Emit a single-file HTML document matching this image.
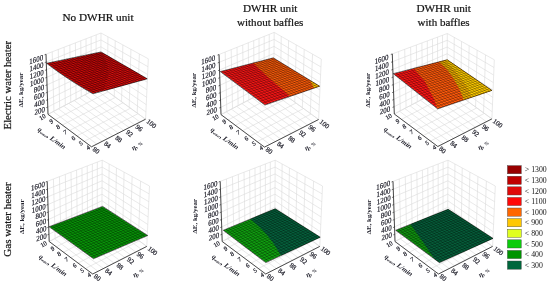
<!DOCTYPE html>
<html><head><meta charset="utf-8"><title>Figure</title>
<style>html,body{margin:0;padding:0;background:#fff}svg{display:block}</style>
</head><body>
<svg width="550" height="285" viewBox="0 0 550 285" font-family='"Liberation Serif", serif'>
<rect width="550" height="285" fill="#fff"/>
<path d="M48 114.3 L46 54.2M53.93 111.17 L52.21 51.8M59.69 108.13 L58.25 49.48M65.3 105.17 L64.12 47.22M70.76 102.29 L69.83 45.02M76.08 99.49 L75.38 42.88M81.26 96.76 L80.78 40.79M86.3 94.09 L86.03 38.77M91.22 91.5 L91.15 36.8M96.02 88.97 L96.14 34.87M100.7 86.5 L101 33M48 114.3 L100.7 86.5M47.76 107.07 L100.74 80.03M47.52 99.76 L100.77 73.5M47.27 92.37 L100.81 66.91M47.02 84.9 L100.85 60.26M46.77 77.35 L100.88 53.54M46.52 69.72 L100.92 46.76M46.26 62 L100.96 39.91M46 54.2 L101 33M107.34 91.33 L107.95 36.79M114.28 96.39 L115.24 40.77M121.55 101.69 L122.89 44.94M129.18 107.24 L130.93 49.32M137.19 113.07 L139.39 53.94M145.6 119.2 L148.3 58.8M100.7 86.5 L145.6 119.2M100.74 80.07 L145.92 111.98M100.77 73.56 L146.25 104.67M100.81 66.99 L146.58 97.27M100.85 60.34 L146.92 89.77M100.88 53.62 L147.25 82.18M100.92 46.82 L147.6 74.49M100.96 39.95 L147.95 66.69M101 33 L148.3 58.8M48 114.3 L91.5 146.8M53.19 111.56 L96.83 144.08M58.4 108.81 L102.18 141.35M63.63 106.06 L107.54 138.62M68.87 103.29 L112.92 135.87M74.13 100.52 L118.32 133.12M79.41 97.73 L123.74 130.35M84.71 94.94 L129.18 127.58M90.02 92.13 L134.63 124.79M95.35 89.32 L140.11 122M100.7 86.5 L145.6 119.2M48 114.3 L100.7 86.5M55.18 119.66 L108.11 91.89M62.38 125.04 L115.54 97.31M69.62 130.45 L123.01 102.75M76.88 135.88 L130.51 108.21M84.18 141.33 L138.04 113.69M91.5 146.8 L145.6 119.2" fill="none" stroke="#dadada" stroke-width="0.6"/>
<path d="M46 54.2 L48 114.3 L91.5 146.8 L145.6 119.2" fill="none" stroke="#222" stroke-width="0.8" stroke-linejoin="round"/>
<path d="M47.76 107.07 L46.26 107.67M47.52 99.76 L46.02 100.36M47.27 92.37 L45.77 92.97M47.02 84.9 L45.52 85.5M46.77 77.35 L45.27 77.95M46.52 69.72 L45.02 70.32M46.26 62 L44.76 62.6M46 54.2 L44.5 54.8" fill="none" stroke="#222" stroke-width="0.6"/>
<clipPath id="c0_0"><path d="M46.7 63.3 L52.57 62.08 L58.34 60.88 L64.01 59.7 L69.57 58.54 L75.04 57.4 L80.41 56.28 L85.69 55.19 L90.88 54.11 L95.98 53.04 L101 52 L105.33 54.51 L109.72 57.06 L114.17 59.64 L118.68 62.26 L123.26 64.91 L127.91 67.61 L132.63 70.35 L137.41 73.12 L142.27 75.94 L147.2 78.8 L142.23 80.17 L137.16 81.56 L132 82.98 L126.74 84.42 L121.38 85.9 L115.92 87.4 L110.36 88.93 L104.69 90.49 L98.9 92.08 L93 93.7 L88.03 90.87 L83.14 87.99 L78.32 85.07 L73.59 82.11 L68.93 79.1 L64.34 76.04 L59.83 72.93 L55.38 69.77 L51.01 66.56Z"/></clipPath>
<g clip-path="url(#c0_0)">
<path d="M46.7 63.3 L52.57 62.08 L58.34 60.88 L64.01 59.7 L69.57 58.54 L75.04 57.4 L80.41 56.28 L85.69 55.19 L90.88 54.11 L95.98 53.04 L101 52 L105.33 54.51 L109.72 57.06 L114.17 59.64 L118.68 62.26 L123.26 64.91 L127.91 67.61 L132.63 70.35 L137.41 73.12 L142.27 75.94 L147.2 78.8 L142.23 80.17 L137.16 81.56 L132 82.98 L126.74 84.42 L121.38 85.9 L115.92 87.4 L110.36 88.93 L104.69 90.49 L98.9 92.08 L93 93.7 L88.03 90.87 L83.14 87.99 L78.32 85.07 L73.59 82.11 L68.93 79.1 L64.34 76.04 L59.83 72.93 L55.38 69.77 L51.01 66.56Z" fill="#d20a0a"/>
<path d="M76 1 L100 49 L104 57 L108 66 L108 76 L105 86 L103 93 L91 135 L291 135 L276 1Z" fill="#e20e0e"/>
</g>
<path d="M46.7 63.3 L51.01 66.56 L55.38 69.77 L59.83 72.93 L64.34 76.04 L68.93 79.1 L73.59 82.11 L78.32 85.07 L83.14 87.99 L88.03 90.87 L93 93.7M46.7 63.3 L52.57 62.08 L58.34 60.88 L64.01 59.7 L69.57 58.54 L75.04 57.4 L80.41 56.28 L85.69 55.19 L90.88 54.11 L95.98 53.04 L101 52M49.65 62.69 L53.96 65.89 L58.34 69.05 L62.79 72.16 L67.3 75.24 L71.89 78.27 L76.55 81.27 L81.29 84.23 L86.1 87.15 L90.99 90.03 L95.96 92.88M48.85 64.94 L54.72 63.65 L60.49 62.4 L66.16 61.17 L71.73 59.96 L77.2 58.78 L82.57 57.63 L87.85 56.5 L93.04 55.39 L98.14 54.31 L103.16 53.25M52.57 62.08 L56.89 65.22 L61.27 68.33 L65.72 71.41 L70.24 74.45 L74.83 77.46 L79.49 80.44 L84.22 83.39 L89.04 86.31 L93.93 89.21 L98.9 92.08M51.01 66.56 L56.89 65.22 L62.66 63.91 L68.33 62.64 L73.9 61.39 L79.37 60.17 L84.74 58.98 L90.02 57.82 L95.21 56.69 L100.31 55.59 L105.33 54.51M55.47 61.47 L59.79 64.56 L64.17 67.63 L68.62 70.66 L73.14 73.67 L77.73 76.66 L82.39 79.62 L87.13 82.57 L91.95 85.49 L96.84 88.39 L101.81 91.28M53.19 68.17 L59.07 66.78 L64.85 65.42 L70.52 64.1 L76.09 62.81 L81.56 61.56 L86.93 60.34 L92.21 59.15 L97.4 58 L102.5 56.87 L107.51 55.78M58.34 60.88 L62.66 63.91 L67.05 66.93 L71.5 69.93 L76.02 72.91 L80.61 75.87 L85.27 78.82 L90.01 81.76 L94.83 84.68 L99.72 87.59 L104.69 90.49M55.38 69.77 L61.27 68.33 L67.05 66.93 L72.72 65.57 L78.29 64.24 L83.76 62.95 L89.13 61.7 L94.41 60.49 L99.6 59.31 L104.7 58.17 L109.72 57.06M61.19 60.28 L65.51 63.27 L69.9 66.24 L74.35 69.21 L78.87 72.16 L83.46 75.1 L88.13 78.03 L92.86 80.96 L97.68 83.88 L102.57 86.79 L107.54 89.7M57.6 71.36 L63.49 69.87 L69.26 68.43 L74.94 67.03 L80.51 65.67 L85.98 64.35 L91.36 63.07 L96.64 61.83 L101.82 60.63 L106.92 59.47 L111.93 58.34M64.01 59.7 L68.33 62.64 L72.72 65.57 L77.17 68.49 L81.7 71.42 L86.29 74.34 L90.95 77.25 L95.69 80.17 L100.5 83.09 L105.39 86.01 L110.36 88.93M59.83 72.93 L65.72 71.41 L71.5 69.93 L77.17 68.49 L82.75 67.1 L88.22 65.76 L93.59 64.45 L98.87 63.19 L104.06 61.96 L109.16 60.78 L114.17 59.64M66.8 59.12 L71.13 62.01 L75.52 64.9 L79.97 67.79 L84.5 70.69 L89.09 73.59 L93.75 76.49 L98.49 79.4 L103.3 82.31 L108.19 85.23 L113.15 88.16M62.08 74.49 L67.97 72.93 L73.75 71.42 L79.43 69.96 L85 68.54 L90.47 67.16 L95.85 65.83 L101.12 64.55 L106.31 63.3 L111.41 62.1 L116.42 60.94M69.57 58.54 L73.9 61.39 L78.29 64.24 L82.75 67.1 L87.27 69.97 L91.86 72.85 L96.53 75.74 L101.26 78.63 L106.07 81.54 L110.96 84.46 L115.92 87.4M64.34 76.04 L70.24 74.45 L76.02 72.91 L81.7 71.42 L87.27 69.97 L92.74 68.57 L98.12 67.22 L103.39 65.91 L108.58 64.65 L113.67 63.43 L118.68 62.26M72.32 57.97 L76.65 60.78 L81.04 63.59 L85.49 66.42 L90.02 69.27 L94.61 72.12 L99.27 74.99 L104.01 77.88 L108.82 80.78 L113.7 83.7 L118.67 86.64M66.63 77.57 L72.52 75.96 L78.31 74.39 L83.98 72.88 L89.56 71.41 L95.03 69.99 L100.4 68.62 L105.68 67.29 L110.86 66.01 L115.96 64.77 L120.96 63.58M75.04 57.4 L79.37 60.17 L83.76 62.95 L88.22 65.76 L92.74 68.57 L97.33 71.41 L102 74.26 L106.73 77.14 L111.54 80.04 L116.42 82.96 L121.38 85.9M68.93 79.1 L74.83 77.46 L80.61 75.87 L86.29 74.34 L91.86 72.85 L97.33 71.41 L102.71 70.02 L107.98 68.67 L113.17 67.37 L118.26 66.12 L123.26 64.91M77.74 56.84 L82.07 59.57 L86.46 62.32 L90.92 65.1 L95.44 67.89 L100.03 70.71 L104.69 73.55 L109.43 76.41 L114.23 79.3 L119.12 82.21 L124.07 85.16M71.25 80.61 L77.15 78.95 L82.93 77.35 L88.61 75.8 L94.19 74.29 L99.66 72.83 L105.03 71.43 L110.3 70.06 L115.49 68.75 L120.58 67.48 L125.58 66.26M80.41 56.28 L84.74 58.98 L89.13 61.7 L93.59 64.45 L98.12 67.22 L102.71 70.02 L107.37 72.84 L112.1 75.69 L116.91 78.57 L121.78 81.48 L126.74 84.42M73.59 82.11 L79.49 80.44 L85.27 78.82 L90.95 77.25 L96.53 75.74 L102 74.26 L107.37 72.84 L112.64 71.46 L117.82 70.13 L122.91 68.85 L127.91 67.61M83.07 55.73 L87.39 58.4 L91.79 61.09 L96.24 63.81 L100.77 66.56 L105.36 69.34 L110.02 72.15 L114.75 74.99 L119.55 77.86 L124.43 80.76 L129.38 83.7M75.95 83.6 L81.85 81.92 L87.63 80.29 L93.31 78.71 L98.89 77.18 L104.36 75.7 L109.73 74.26 L115 72.87 L120.18 71.53 L125.26 70.23 L130.26 68.97M85.69 55.19 L90.02 57.82 L94.41 60.49 L98.87 63.19 L103.39 65.91 L107.98 68.67 L112.64 71.46 L117.37 74.29 L122.17 77.15 L127.05 80.05 L132 82.98M78.32 85.07 L84.22 83.39 L90.01 81.76 L95.69 80.17 L101.26 78.63 L106.73 77.14 L112.1 75.69 L117.37 74.29 L122.55 72.93 L127.63 71.62 L132.63 70.35M88.3 54.64 L92.63 57.25 L97.02 59.9 L101.48 62.57 L106 65.28 L110.59 68.02 L115.24 70.79 L119.97 73.61 L124.77 76.45 L129.64 79.34 L134.59 82.27M80.72 86.54 L86.62 84.86 L92.41 83.22 L98.09 81.63 L103.66 80.09 L109.13 78.59 L114.49 77.13 L119.76 75.72 L124.94 74.35 L130.02 73.02 L135.01 71.73M90.88 54.11 L95.21 56.69 L99.6 59.31 L104.06 61.96 L108.58 64.65 L113.17 67.37 L117.82 70.13 L122.55 72.93 L127.34 75.77 L132.21 78.64 L137.16 81.56M83.14 87.99 L89.04 86.31 L94.83 84.68 L100.5 83.09 L106.07 81.54 L111.54 80.04 L116.91 78.57 L122.17 77.15 L127.34 75.77 L132.42 74.43 L137.41 73.12M93.44 53.57 L97.77 56.14 L102.16 58.73 L106.62 61.37 L111.14 64.04 L115.72 66.74 L120.38 69.49 L125.1 72.27 L129.9 75.09 L134.76 77.96 L139.7 80.86M85.57 89.44 L91.47 87.76 L97.26 86.13 L102.94 84.55 L108.51 83 L113.97 81.49 L119.34 80.02 L124.6 78.59 L129.77 77.2 L134.85 75.85 L139.83 74.53M95.98 53.04 L100.31 55.59 L104.7 58.17 L109.16 60.78 L113.67 63.43 L118.26 66.12 L122.91 68.85 L127.63 71.62 L132.42 74.43 L137.29 77.28 L142.23 80.17M88.03 90.87 L93.93 89.21 L99.72 87.59 L105.39 86.01 L110.96 84.46 L116.42 82.96 L121.78 81.48 L127.05 80.05 L132.21 78.64 L137.29 77.28 L142.27 75.94M98.5 52.52 L102.83 55.05 L107.22 57.61 L111.67 60.2 L116.19 62.84 L120.77 65.51 L125.42 68.22 L130.14 70.98 L134.93 73.77 L139.79 76.6 L144.72 79.48M90.5 92.29 L96.4 90.65 L102.19 89.04 L107.87 87.47 L113.43 85.93 L118.89 84.42 L124.25 82.95 L129.51 81.51 L134.68 80.1 L139.75 78.72 L144.73 77.36M101 52 L105.33 54.51 L109.72 57.06 L114.17 59.64 L118.68 62.26 L123.26 64.91 L127.91 67.61 L132.63 70.35 L137.41 73.12 L142.27 75.94 L147.2 78.8M93 93.7 L98.9 92.08 L104.69 90.49 L110.36 88.93 L115.92 87.4 L121.38 85.9 L126.74 84.42 L132 82.98 L137.16 81.56 L142.23 80.17 L147.2 78.8" fill="none" stroke="#000" stroke-opacity="0.52" stroke-width="0.7"/>
<path d="M46.7 63.3 L52.57 62.08 L58.34 60.88 L64.01 59.7 L69.57 58.54 L75.04 57.4 L80.41 56.28 L85.69 55.19 L90.88 54.11 L95.98 53.04 L101 52 L105.33 54.51 L109.72 57.06 L114.17 59.64 L118.68 62.26 L123.26 64.91 L127.91 67.61 L132.63 70.35 L137.41 73.12 L142.27 75.94 L147.2 78.8 L142.23 80.17 L137.16 81.56 L132 82.98 L126.74 84.42 L121.38 85.9 L115.92 87.4 L110.36 88.93 L104.69 90.49 L98.9 92.08 L93 93.7 L88.03 90.87 L83.14 87.99 L78.32 85.07 L73.59 82.11 L68.93 79.1 L64.34 76.04 L59.83 72.93 L55.38 69.77 L51.01 66.56Z" fill="none" stroke="#000" stroke-opacity="0.6" stroke-width="0.6"/>
<text transform="translate(45.2 111.5) rotate(-18) skewX(-10)" text-anchor="end" font-size="7.3" font-style="italic" fill="#23232e" stroke="#23232e" stroke-width="0.18">200</text>
<text transform="translate(44.95 104.1) rotate(-18) skewX(-10)" text-anchor="end" font-size="7.3" font-style="italic" fill="#23232e" stroke="#23232e" stroke-width="0.18">400</text>
<text transform="translate(44.7 96.7) rotate(-18) skewX(-10)" text-anchor="end" font-size="7.3" font-style="italic" fill="#23232e" stroke="#23232e" stroke-width="0.18">600</text>
<text transform="translate(44.45 89.3) rotate(-18) skewX(-10)" text-anchor="end" font-size="7.3" font-style="italic" fill="#23232e" stroke="#23232e" stroke-width="0.18">800</text>
<text transform="translate(44.2 81.9) rotate(-18) skewX(-10)" text-anchor="end" font-size="7.3" font-style="italic" fill="#23232e" stroke="#23232e" stroke-width="0.18">1000</text>
<text transform="translate(43.95 74.5) rotate(-18) skewX(-10)" text-anchor="end" font-size="7.3" font-style="italic" fill="#23232e" stroke="#23232e" stroke-width="0.18">1200</text>
<text transform="translate(43.7 67.1) rotate(-18) skewX(-10)" text-anchor="end" font-size="7.3" font-style="italic" fill="#23232e" stroke="#23232e" stroke-width="0.18">1400</text>
<text transform="translate(43.45 59.7) rotate(-18) skewX(-10)" text-anchor="end" font-size="7.3" font-style="italic" fill="#23232e" stroke="#23232e" stroke-width="0.18">1600</text>
<text transform="translate(23.1 90) rotate(-90)" text-anchor="middle" font-size="6.9" font-weight="bold" fill="#23232e">ΔE, kg/year</text>
<text transform="translate(42.5 117.1) rotate(-30)" text-anchor="middle" font-size="6.3" fill="#23232e" stroke="#23232e" stroke-width="0.2" dy="2">10</text>
<text transform="translate(51.4 121.5) rotate(-30)" text-anchor="middle" font-size="6.3" fill="#23232e" stroke="#23232e" stroke-width="0.2" dy="2">9</text>
<text transform="translate(58 126.9) rotate(-30)" text-anchor="middle" font-size="6.3" fill="#23232e" stroke="#23232e" stroke-width="0.2" dy="2">8</text>
<text transform="translate(65.3 132.3) rotate(-30)" text-anchor="middle" font-size="6.3" fill="#23232e" stroke="#23232e" stroke-width="0.2" dy="2">7</text>
<text transform="translate(73.4 138.2) rotate(-30)" text-anchor="middle" font-size="6.3" fill="#23232e" stroke="#23232e" stroke-width="0.2" dy="2">6</text>
<text transform="translate(80.8 143.3) rotate(-30)" text-anchor="middle" font-size="6.3" fill="#23232e" stroke="#23232e" stroke-width="0.2" dy="2">5</text>
<text transform="translate(88 147.8) rotate(-30)" text-anchor="middle" font-size="6.3" fill="#23232e" stroke="#23232e" stroke-width="0.2" dy="2">4</text>
<text transform="translate(51.6 138.2) rotate(36)" text-anchor="middle" font-size="7" font-style="italic" font-weight="bold" fill="#23232e" dy="2">q<tspan font-size="3.6" dy="1">water</tspan><tspan dy="-1">, L/min</tspan></text>
<text transform="translate(96 150.4) rotate(38)" text-anchor="middle" font-size="6.8" fill="#23232e" stroke="#23232e" stroke-width="0.2" dy="2">80</text>
<text transform="translate(107.3 144.9) rotate(38)" text-anchor="middle" font-size="6.8" fill="#23232e" stroke="#23232e" stroke-width="0.2" dy="2">84</text>
<text transform="translate(118.6 139.2) rotate(38)" text-anchor="middle" font-size="6.8" fill="#23232e" stroke="#23232e" stroke-width="0.2" dy="2">88</text>
<text transform="translate(129.3 133.6) rotate(38)" text-anchor="middle" font-size="6.8" fill="#23232e" stroke="#23232e" stroke-width="0.2" dy="2">92</text>
<text transform="translate(139 128.2) rotate(38)" text-anchor="middle" font-size="6.8" fill="#23232e" stroke="#23232e" stroke-width="0.2" dy="2">96</text>
<text transform="translate(151.3 123.8) rotate(38)" text-anchor="middle" font-size="6.8" fill="#23232e" stroke="#23232e" stroke-width="0.2" dy="2">100</text>
<text transform="translate(137 145.6) rotate(-33)" text-anchor="middle" font-size="7" font-style="italic" font-weight="bold" fill="#23232e" dy="2">η, <tspan font-size="5">%</tspan></text>
<path d="M221 114.6 L219 54.5M226.85 111.51 L225.16 52.04M232.56 108.5 L231.16 49.63M238.13 105.56 L237.01 47.29M243.57 102.69 L242.71 45.01M248.88 99.89 L248.28 42.78M254.08 97.15 L253.71 40.6M259.15 94.48 L259.02 38.48M264.11 91.86 L264.2 36.4M268.96 89.3 L269.26 34.38M273.7 86.8 L274.2 32.4M221 114.6 L273.7 86.8M220.76 107.39 L273.76 80.25M220.52 100.1 L273.82 73.63M220.27 92.73 L273.88 66.93M220.02 85.26 L273.94 60.17M219.77 77.71 L274.01 53.34M219.52 70.07 L274.07 46.43M219.26 62.33 L274.14 39.45M219 54.5 L274.2 32.4M280.44 91.71 L281.24 36.39M287.45 96.82 L288.57 40.55M294.75 102.13 L296.22 44.88M302.37 107.68 L304.21 49.41M310.31 113.46 L312.56 54.15M318.6 119.5 L321.3 59.1M273.7 86.8 L318.6 119.5M273.76 80.24 L318.92 112.25M273.82 73.61 L319.25 104.92M273.88 66.92 L319.58 97.5M273.94 60.16 L319.92 90M274.01 53.32 L320.26 82.41M274.07 46.42 L320.6 74.73M274.14 39.45 L320.95 66.96M274.2 32.4 L321.3 59.1M221 114.6 L264.5 147.1M226.19 111.86 L269.83 144.38M231.4 109.11 L275.18 141.65M236.63 106.36 L280.54 138.92M241.87 103.59 L285.92 136.17M247.13 100.82 L291.32 133.42M252.41 98.03 L296.74 130.65M257.71 95.24 L302.18 127.88M263.02 92.43 L307.63 125.09M268.35 89.62 L313.11 122.3M273.7 86.8 L318.6 119.5M221 114.6 L273.7 86.8M228.18 119.96 L281.11 92.19M235.38 125.34 L288.54 97.61M242.62 130.75 L296.01 103.05M249.88 136.18 L303.51 108.51M257.18 141.63 L311.04 113.99M264.5 147.1 L318.6 119.5" fill="none" stroke="#dadada" stroke-width="0.6"/>
<path d="M219 54.5 L221 114.6 L264.5 147.1 L318.6 119.5" fill="none" stroke="#222" stroke-width="0.8" stroke-linejoin="round"/>
<path d="M220.76 107.39 L219.26 107.99M220.52 100.1 L219.02 100.7M220.27 92.73 L218.77 93.33M220.02 85.26 L218.52 85.86M219.77 77.71 L218.27 78.31M219.52 70.07 L218.02 70.67M219.26 62.33 L217.76 62.93M219 54.5 L217.5 55.1" fill="none" stroke="#222" stroke-width="0.6"/>
<clipPath id="c173_0"><path d="M220.3 71.6 L273.3 57.9 L319.6 86.2 L264.9 105Z"/></clipPath>
<g clip-path="url(#c173_0)">
<path d="M220.3 71.6 L273.3 57.9 L319.6 86.2 L264.9 105Z" fill="#f41616"/>
<path d="M224.8 38.8 L250 60.4 L254.2 64 L261.8 71.2 L269 78 L276.8 84.7 L284.4 91.3 L289.9 96.5 L294 100.2 L318.6 122.4 L518.6 122.4 L424.8 38.8Z" fill="#fc5c0a"/>
<path d="M291 42 L309 78 L312 84 L315 90 L333 126 L533 126 L491 42Z" fill="#ffc400"/>
</g>
<path d="M220.3 71.6 L264.9 105M220.3 71.6 L273.3 57.9M223.21 70.85 L267.93 103.96M222.28 73.08 L275.38 59.17M226.08 70.11 L270.93 102.93M224.28 74.58 L277.48 60.46M228.93 69.37 L273.9 101.91M226.31 76.1 L279.61 61.75M231.75 68.64 L276.83 100.9M228.36 77.64 L281.75 63.07M234.54 67.92 L279.73 99.9M230.44 79.19 L283.92 64.39M237.3 67.2 L282.59 98.92M232.54 80.77 L286.12 65.74M240.04 66.5 L285.43 97.94M234.67 82.36 L288.34 67.09M242.75 65.8 L288.23 96.98M236.82 83.97 L290.58 68.46M245.43 65.1 L291 96.03M239 85.6 L292.85 69.85M248.09 64.42 L293.75 95.09M241.21 87.26 L295.15 71.25M250.72 63.74 L296.46 94.15M243.44 88.93 L297.47 72.67M253.32 63.06 L299.14 93.23M245.71 90.63 L299.81 74.11M255.9 62.4 L301.79 92.32M248 92.34 L302.19 75.56M258.46 61.74 L304.42 91.42M250.32 94.08 L304.59 77.03M260.99 61.08 L307.02 90.52M252.67 95.84 L307.02 78.51M263.5 60.43 L309.59 89.64M255.05 97.63 L309.48 80.01M265.99 59.79 L312.13 88.77M257.47 99.43 L311.96 81.53M268.45 59.15 L314.65 87.9M259.91 101.26 L314.48 83.07M270.88 58.52 L317.14 87.05M262.39 103.12 L317.02 84.63M273.3 57.9 L319.6 86.2M264.9 105 L319.6 86.2" fill="none" stroke="#000" stroke-opacity="0.5" stroke-width="0.6"/>
<path d="M220.3 71.6 L273.3 57.9 L319.6 86.2 L264.9 105Z" fill="none" stroke="#000" stroke-opacity="0.6" stroke-width="0.6"/>
<text transform="translate(217.2 111.8) rotate(-18) skewX(-10)" text-anchor="end" font-size="7.3" font-style="italic" fill="#23232e" stroke="#23232e" stroke-width="0.18">200</text>
<text transform="translate(216.95 104.4) rotate(-18) skewX(-10)" text-anchor="end" font-size="7.3" font-style="italic" fill="#23232e" stroke="#23232e" stroke-width="0.18">400</text>
<text transform="translate(216.7 97) rotate(-18) skewX(-10)" text-anchor="end" font-size="7.3" font-style="italic" fill="#23232e" stroke="#23232e" stroke-width="0.18">600</text>
<text transform="translate(216.45 89.6) rotate(-18) skewX(-10)" text-anchor="end" font-size="7.3" font-style="italic" fill="#23232e" stroke="#23232e" stroke-width="0.18">800</text>
<text transform="translate(216.2 82.2) rotate(-18) skewX(-10)" text-anchor="end" font-size="7.3" font-style="italic" fill="#23232e" stroke="#23232e" stroke-width="0.18">1000</text>
<text transform="translate(215.95 74.8) rotate(-18) skewX(-10)" text-anchor="end" font-size="7.3" font-style="italic" fill="#23232e" stroke="#23232e" stroke-width="0.18">1200</text>
<text transform="translate(215.7 67.4) rotate(-18) skewX(-10)" text-anchor="end" font-size="7.3" font-style="italic" fill="#23232e" stroke="#23232e" stroke-width="0.18">1400</text>
<text transform="translate(215.45 60) rotate(-18) skewX(-10)" text-anchor="end" font-size="7.3" font-style="italic" fill="#23232e" stroke="#23232e" stroke-width="0.18">1600</text>
<text transform="translate(196.1 90.3) rotate(-90)" text-anchor="middle" font-size="6.9" font-weight="bold" fill="#23232e">ΔE, kg/year</text>
<text transform="translate(215.5 117.4) rotate(-30)" text-anchor="middle" font-size="6.3" fill="#23232e" stroke="#23232e" stroke-width="0.2" dy="2">10</text>
<text transform="translate(224.4 121.8) rotate(-30)" text-anchor="middle" font-size="6.3" fill="#23232e" stroke="#23232e" stroke-width="0.2" dy="2">9</text>
<text transform="translate(231 127.2) rotate(-30)" text-anchor="middle" font-size="6.3" fill="#23232e" stroke="#23232e" stroke-width="0.2" dy="2">8</text>
<text transform="translate(238.3 132.6) rotate(-30)" text-anchor="middle" font-size="6.3" fill="#23232e" stroke="#23232e" stroke-width="0.2" dy="2">7</text>
<text transform="translate(246.4 138.5) rotate(-30)" text-anchor="middle" font-size="6.3" fill="#23232e" stroke="#23232e" stroke-width="0.2" dy="2">6</text>
<text transform="translate(253.8 143.6) rotate(-30)" text-anchor="middle" font-size="6.3" fill="#23232e" stroke="#23232e" stroke-width="0.2" dy="2">5</text>
<text transform="translate(261 148.1) rotate(-30)" text-anchor="middle" font-size="6.3" fill="#23232e" stroke="#23232e" stroke-width="0.2" dy="2">4</text>
<text transform="translate(224.6 138.5) rotate(36)" text-anchor="middle" font-size="7" font-style="italic" font-weight="bold" fill="#23232e" dy="2">q<tspan font-size="3.6" dy="1">water</tspan><tspan dy="-1">, L/min</tspan></text>
<text transform="translate(269 150.7) rotate(38)" text-anchor="middle" font-size="6.8" fill="#23232e" stroke="#23232e" stroke-width="0.2" dy="2">80</text>
<text transform="translate(280.3 145.2) rotate(38)" text-anchor="middle" font-size="6.8" fill="#23232e" stroke="#23232e" stroke-width="0.2" dy="2">84</text>
<text transform="translate(291.6 139.5) rotate(38)" text-anchor="middle" font-size="6.8" fill="#23232e" stroke="#23232e" stroke-width="0.2" dy="2">88</text>
<text transform="translate(302.3 133.9) rotate(38)" text-anchor="middle" font-size="6.8" fill="#23232e" stroke="#23232e" stroke-width="0.2" dy="2">92</text>
<text transform="translate(312 128.5) rotate(38)" text-anchor="middle" font-size="6.8" fill="#23232e" stroke="#23232e" stroke-width="0.2" dy="2">96</text>
<text transform="translate(324.3 124.1) rotate(38)" text-anchor="middle" font-size="6.8" fill="#23232e" stroke="#23232e" stroke-width="0.2" dy="2">100</text>
<text transform="translate(310 145.9) rotate(-33)" text-anchor="middle" font-size="7" font-style="italic" font-weight="bold" fill="#23232e" dy="2">η, <tspan font-size="5">%</tspan></text>
<path d="M394.3 114 L392.3 53.9M400.3 110.83 L398.6 51.56M406.12 107.76 L404.7 49.3M411.77 104.79 L410.6 47.11M417.25 101.89 L416.33 44.99M422.57 99.09 L421.88 42.93M427.73 96.36 L427.27 40.93M432.75 93.71 L432.5 38.99M437.64 91.14 L437.58 37.11M442.38 88.64 L442.51 35.28M447 86.2 L447.3 33.5M394.3 114 L447 86.2M394.06 106.77 L447.04 79.83M393.82 99.46 L447.07 73.39M393.57 92.07 L447.11 66.9M393.32 84.61 L447.15 60.35M393.07 77.06 L447.18 53.73M392.82 69.42 L447.22 47.05M392.56 61.7 L447.26 40.31M392.3 53.9 L447.3 33.5M453.69 91.07 L454.26 37.4M460.66 96.15 L461.54 41.47M467.95 101.46 L469.16 45.73M475.57 107.01 L477.14 50.2M483.54 112.81 L485.51 54.88M491.9 118.9 L494.3 59.8M447 86.2 L491.9 118.9M447.04 79.83 L492.19 111.8M447.07 73.41 L492.48 104.62M447.11 66.92 L492.77 97.35M447.15 60.36 L493.07 90.01M447.18 53.75 L493.37 82.59M447.22 47.06 L493.68 75.08M447.26 40.32 L493.99 67.48M447.3 33.5 L494.3 59.8M394.3 114 L437.8 146.5M399.49 111.26 L443.13 143.78M404.7 108.51 L448.48 141.05M409.93 105.76 L453.84 138.32M415.17 102.99 L459.22 135.57M420.43 100.22 L464.62 132.82M425.71 97.43 L470.04 130.05M431.01 94.64 L475.48 127.28M436.32 91.83 L480.93 124.49M441.65 89.02 L486.41 121.7M447 86.2 L491.9 118.9M394.3 114 L447 86.2M401.48 119.36 L454.41 91.59M408.68 124.74 L461.84 97.01M415.92 130.15 L469.31 102.45M423.18 135.58 L476.81 107.91M430.48 141.03 L484.34 113.39M437.8 146.5 L491.9 118.9" fill="none" stroke="#dadada" stroke-width="0.6"/>
<path d="M392.3 53.9 L394.3 114 L437.8 146.5 L491.9 118.9" fill="none" stroke="#222" stroke-width="0.8" stroke-linejoin="round"/>
<path d="M394.06 106.77 L392.56 107.37M393.82 99.46 L392.32 100.06M393.57 92.07 L392.07 92.67M393.32 84.61 L391.82 85.21M393.07 77.06 L391.57 77.66M392.82 69.42 L391.32 70.02M392.56 61.7 L391.06 62.3M392.3 53.9 L390.8 54.5" fill="none" stroke="#222" stroke-width="0.6"/>
<clipPath id="c346_0"><path d="M393.3 73.7 L447.2 59.8 L491.9 90.4 L437.6 108.8Z"/></clipPath>
<g clip-path="url(#c346_0)">
<path d="M393.3 73.7 L447.2 59.8 L491.9 90.4 L437.6 108.8Z" fill="#fa1616"/>
<path d="M402.8 47.3 L413 66.5 L414.7 69.7 L418.5 74 L421.8 77.9 L424.4 80.5 L427 85.5 L429.8 90.9 L434.2 99.6 L436.4 106.2 L438 111 L447.6 139.8 L647.6 139.8 L602.8 47.3Z" fill="#ff5a0c"/>
<path d="M423.7 40.9 L437.5 59.5 L439.8 62.6 L446.9 69.2 L452.3 76.8 L455.5 82 L459.3 88.7 L462.5 96.4 L463.6 100.7 L464.5 104 L469.9 123.8 L669.9 123.8 L623.7 40.9Z" fill="#eeae00"/>
<path d="M413 23.8 L443 58 L448 63.7 L454.5 70.3 L459.4 76.8 L463.6 82 L468 88.7 L471.3 96.4 L472.5 100 L479.7 121.6 L679.7 121.6 L613 23.8Z" fill="#ffcc00"/>
</g>
<path d="M393.3 73.7 L437.6 108.8M393.3 73.7 L447.2 59.8M396.24 72.94 L440.58 107.79M395.33 75.31 L449.27 61.22M399.15 72.19 L443.53 106.79M397.38 76.94 L451.35 62.64M402.03 71.45 L446.46 105.8M399.45 78.58 L453.45 64.08M404.89 70.71 L449.35 104.82M401.54 80.23 L455.57 65.53M407.72 69.98 L452.21 103.85M403.65 81.9 L457.7 66.99M410.52 69.26 L455.04 102.89M405.77 83.58 L459.86 68.46M413.3 68.54 L457.85 101.94M407.91 85.28 L462.03 69.95M416.05 67.83 L460.63 101M410.07 86.99 L464.21 71.45M418.78 67.13 L463.37 100.07M412.26 88.72 L466.42 72.95M421.48 66.43 L466.1 99.14M414.46 90.46 L468.64 74.48M424.15 65.74 L468.79 98.23M416.68 92.22 L470.88 76.01M426.81 65.06 L471.46 97.33M418.92 94 L473.14 77.56M429.44 64.38 L474.1 96.43M421.18 95.79 L475.41 79.11M432.04 63.71 L476.72 95.54M423.46 97.6 L477.71 80.69M434.62 63.04 L479.31 94.67M425.76 99.42 L480.03 82.27M437.18 62.38 L481.88 93.8M428.09 101.26 L482.36 83.87M439.72 61.73 L484.42 92.94M430.43 103.12 L484.72 85.48M442.24 61.08 L486.94 92.08M432.8 105 L487.09 87.11M444.73 60.44 L489.43 91.24M435.19 106.89 L489.49 88.75M447.2 59.8 L491.9 90.4M437.6 108.8 L491.9 90.4" fill="none" stroke="#000" stroke-opacity="0.5" stroke-width="0.6"/>
<path d="M393.3 73.7 L447.2 59.8 L491.9 90.4 L437.6 108.8Z" fill="none" stroke="#000" stroke-opacity="0.6" stroke-width="0.6"/>
<text transform="translate(390.5 111.2) rotate(-18) skewX(-10)" text-anchor="end" font-size="7.3" font-style="italic" fill="#23232e" stroke="#23232e" stroke-width="0.18">200</text>
<text transform="translate(390.25 103.8) rotate(-18) skewX(-10)" text-anchor="end" font-size="7.3" font-style="italic" fill="#23232e" stroke="#23232e" stroke-width="0.18">400</text>
<text transform="translate(390 96.4) rotate(-18) skewX(-10)" text-anchor="end" font-size="7.3" font-style="italic" fill="#23232e" stroke="#23232e" stroke-width="0.18">600</text>
<text transform="translate(389.75 89) rotate(-18) skewX(-10)" text-anchor="end" font-size="7.3" font-style="italic" fill="#23232e" stroke="#23232e" stroke-width="0.18">800</text>
<text transform="translate(389.5 81.6) rotate(-18) skewX(-10)" text-anchor="end" font-size="7.3" font-style="italic" fill="#23232e" stroke="#23232e" stroke-width="0.18">1000</text>
<text transform="translate(389.25 74.2) rotate(-18) skewX(-10)" text-anchor="end" font-size="7.3" font-style="italic" fill="#23232e" stroke="#23232e" stroke-width="0.18">1200</text>
<text transform="translate(389 66.8) rotate(-18) skewX(-10)" text-anchor="end" font-size="7.3" font-style="italic" fill="#23232e" stroke="#23232e" stroke-width="0.18">1400</text>
<text transform="translate(388.75 59.4) rotate(-18) skewX(-10)" text-anchor="end" font-size="7.3" font-style="italic" fill="#23232e" stroke="#23232e" stroke-width="0.18">1600</text>
<text transform="translate(370.4 90.2) rotate(-90)" text-anchor="middle" font-size="6.9" font-weight="bold" fill="#23232e">ΔE, kg/year</text>
<text transform="translate(388.8 116.8) rotate(-30)" text-anchor="middle" font-size="6.3" fill="#23232e" stroke="#23232e" stroke-width="0.2" dy="2">10</text>
<text transform="translate(397.7 121.2) rotate(-30)" text-anchor="middle" font-size="6.3" fill="#23232e" stroke="#23232e" stroke-width="0.2" dy="2">9</text>
<text transform="translate(404.3 126.6) rotate(-30)" text-anchor="middle" font-size="6.3" fill="#23232e" stroke="#23232e" stroke-width="0.2" dy="2">8</text>
<text transform="translate(411.6 132) rotate(-30)" text-anchor="middle" font-size="6.3" fill="#23232e" stroke="#23232e" stroke-width="0.2" dy="2">7</text>
<text transform="translate(419.7 137.9) rotate(-30)" text-anchor="middle" font-size="6.3" fill="#23232e" stroke="#23232e" stroke-width="0.2" dy="2">6</text>
<text transform="translate(427.1 143) rotate(-30)" text-anchor="middle" font-size="6.3" fill="#23232e" stroke="#23232e" stroke-width="0.2" dy="2">5</text>
<text transform="translate(434.3 147.5) rotate(-30)" text-anchor="middle" font-size="6.3" fill="#23232e" stroke="#23232e" stroke-width="0.2" dy="2">4</text>
<text transform="translate(397.9 137.9) rotate(36)" text-anchor="middle" font-size="7" font-style="italic" font-weight="bold" fill="#23232e" dy="2">q<tspan font-size="3.6" dy="1">water</tspan><tspan dy="-1">, L/min</tspan></text>
<text transform="translate(442.3 150.1) rotate(38)" text-anchor="middle" font-size="6.8" fill="#23232e" stroke="#23232e" stroke-width="0.2" dy="2">80</text>
<text transform="translate(453.6 144.6) rotate(38)" text-anchor="middle" font-size="6.8" fill="#23232e" stroke="#23232e" stroke-width="0.2" dy="2">84</text>
<text transform="translate(464.9 138.9) rotate(38)" text-anchor="middle" font-size="6.8" fill="#23232e" stroke="#23232e" stroke-width="0.2" dy="2">88</text>
<text transform="translate(475.6 133.3) rotate(38)" text-anchor="middle" font-size="6.8" fill="#23232e" stroke="#23232e" stroke-width="0.2" dy="2">92</text>
<text transform="translate(485.3 127.9) rotate(38)" text-anchor="middle" font-size="6.8" fill="#23232e" stroke="#23232e" stroke-width="0.2" dy="2">96</text>
<text transform="translate(497.6 123.5) rotate(38)" text-anchor="middle" font-size="6.8" fill="#23232e" stroke="#23232e" stroke-width="0.2" dy="2">100</text>
<text transform="translate(483.3 145.3) rotate(-33)" text-anchor="middle" font-size="7" font-style="italic" font-weight="bold" fill="#23232e" dy="2">η, <tspan font-size="5">%</tspan></text>
<path d="M49.2 241.5 L47.2 181.4M55.13 238.37 L53.41 179M60.89 235.33 L59.45 176.68M66.5 232.37 L65.32 174.42M71.96 229.49 L71.03 172.22M77.28 226.69 L76.58 170.08M82.46 223.96 L81.98 167.99M87.5 221.29 L87.23 165.97M92.42 218.7 L92.35 164M97.22 216.17 L97.34 162.07M101.9 213.7 L102.2 160.2M49.2 241.5 L101.9 213.7M48.96 234.27 L101.94 207.23M48.72 226.96 L101.97 200.7M48.47 219.57 L102.01 194.11M48.22 212.1 L102.05 187.46M47.97 204.55 L102.08 180.74M47.72 196.92 L102.12 173.96M47.46 189.2 L102.16 167.11M47.2 181.4 L102.2 160.2M108.54 218.53 L109.15 163.99M115.48 223.59 L116.44 167.97M122.75 228.89 L124.09 172.14M130.38 234.44 L132.13 176.52M138.39 240.27 L140.59 181.14M146.8 246.4 L149.5 186M101.9 213.7 L146.8 246.4M101.94 207.27 L147.12 239.18M101.97 200.76 L147.45 231.87M102.01 194.19 L147.78 224.47M102.05 187.54 L148.12 216.97M102.08 180.82 L148.45 209.38M102.12 174.02 L148.8 201.69M102.16 167.15 L149.15 193.89M102.2 160.2 L149.5 186M49.2 241.5 L92.7 274M54.39 238.76 L98.03 271.28M59.6 236.01 L103.38 268.55M64.83 233.26 L108.74 265.82M70.07 230.49 L114.12 263.07M75.33 227.72 L119.52 260.32M80.61 224.93 L124.94 257.55M85.91 222.14 L130.38 254.78M91.22 219.33 L135.83 251.99M96.55 216.52 L141.31 249.2M101.9 213.7 L146.8 246.4M49.2 241.5 L101.9 213.7M56.38 246.86 L109.31 219.09M63.58 252.24 L116.74 224.51M70.82 257.65 L124.21 229.95M78.08 263.08 L131.71 235.41M85.38 268.53 L139.24 240.89M92.7 274 L146.8 246.4" fill="none" stroke="#dadada" stroke-width="0.6"/>
<path d="M47.2 181.4 L49.2 241.5 L92.7 274 L146.8 246.4" fill="none" stroke="#222" stroke-width="0.8" stroke-linejoin="round"/>
<path d="M48.96 234.27 L47.46 234.87M48.72 226.96 L47.22 227.56M48.47 219.57 L46.97 220.17M48.22 212.1 L46.72 212.7M47.97 204.55 L46.47 205.15M47.72 196.92 L46.22 197.52M47.46 189.2 L45.96 189.8M47.2 181.4 L45.7 182" fill="none" stroke="#222" stroke-width="0.6"/>
<clipPath id="c1_127"><path d="M49.2 226.8 L102.6 206.4 L147.7 235.5 L93.5 258.7Z"/></clipPath>
<g clip-path="url(#c1_127)">
<path d="M49.2 226.8 L102.6 206.4 L147.7 235.5 L93.5 258.7Z" fill="#089408"/>
</g>
<path d="M49.2 226.8 L93.5 258.7M49.2 226.8 L102.6 206.4M52 225.73 L96.35 257.48M51.29 228.31 L104.74 207.78M54.78 224.67 L99.18 256.27M53.4 229.83 L106.89 209.17M57.55 223.61 L102 255.06M55.52 231.35 L109.05 210.56M60.31 222.56 L104.8 253.86M57.65 232.89 L111.22 211.96M63.05 221.51 L107.59 252.67M59.79 234.43 L113.41 213.37M65.78 220.47 L110.36 251.48M61.95 235.98 L115.61 214.79M68.5 219.43 L113.12 250.3M64.12 237.54 L117.82 216.22M71.2 218.4 L115.87 249.13M66.3 239.11 L120.04 217.65M73.89 217.37 L118.6 247.96M68.49 240.69 L122.27 219.09M76.56 216.35 L121.31 246.8M70.7 242.28 L124.52 220.54M79.22 215.33 L124.01 245.64M72.92 243.88 L126.78 222M81.87 214.32 L126.7 244.49M75.15 245.49 L129.05 223.47M84.51 213.31 L129.37 243.35M77.4 247.11 L131.34 224.94M87.13 212.31 L132.03 242.21M79.66 248.73 L133.64 226.43M89.74 211.31 L134.68 241.07M81.93 250.37 L135.95 227.92M92.34 210.32 L137.31 239.95M84.22 252.02 L138.27 229.42M94.92 209.33 L139.93 238.83M86.52 253.67 L140.61 230.92M97.49 208.35 L142.53 237.71M88.83 255.34 L142.96 232.44M100.05 207.37 L145.12 236.6M91.16 257.01 L145.32 233.97M102.6 206.4 L147.7 235.5M93.5 258.7 L147.7 235.5" fill="none" stroke="#000" stroke-opacity="0.5" stroke-width="0.6"/>
<path d="M49.2 226.8 L102.6 206.4 L147.7 235.5 L93.5 258.7Z" fill="none" stroke="#000" stroke-opacity="0.6" stroke-width="0.6"/>
<text transform="translate(46.9 238.1) rotate(-18) skewX(-10)" text-anchor="end" font-size="7.3" font-style="italic" fill="#23232e" stroke="#23232e" stroke-width="0.18">200</text>
<text transform="translate(46.65 230.7) rotate(-18) skewX(-10)" text-anchor="end" font-size="7.3" font-style="italic" fill="#23232e" stroke="#23232e" stroke-width="0.18">400</text>
<text transform="translate(46.4 223.3) rotate(-18) skewX(-10)" text-anchor="end" font-size="7.3" font-style="italic" fill="#23232e" stroke="#23232e" stroke-width="0.18">600</text>
<text transform="translate(46.15 215.9) rotate(-18) skewX(-10)" text-anchor="end" font-size="7.3" font-style="italic" fill="#23232e" stroke="#23232e" stroke-width="0.18">800</text>
<text transform="translate(45.9 208.5) rotate(-18) skewX(-10)" text-anchor="end" font-size="7.3" font-style="italic" fill="#23232e" stroke="#23232e" stroke-width="0.18">1000</text>
<text transform="translate(45.65 201.1) rotate(-18) skewX(-10)" text-anchor="end" font-size="7.3" font-style="italic" fill="#23232e" stroke="#23232e" stroke-width="0.18">1200</text>
<text transform="translate(45.4 193.7) rotate(-18) skewX(-10)" text-anchor="end" font-size="7.3" font-style="italic" fill="#23232e" stroke="#23232e" stroke-width="0.18">1400</text>
<text transform="translate(45.15 186.3) rotate(-18) skewX(-10)" text-anchor="end" font-size="7.3" font-style="italic" fill="#23232e" stroke="#23232e" stroke-width="0.18">1600</text>
<text transform="translate(24.2 216.7) rotate(-90)" text-anchor="middle" font-size="6.9" font-weight="bold" fill="#23232e">ΔE, kg/year</text>
<text transform="translate(43.7 244.3) rotate(-30)" text-anchor="middle" font-size="6.3" fill="#23232e" stroke="#23232e" stroke-width="0.2" dy="2">10</text>
<text transform="translate(52.6 248.7) rotate(-30)" text-anchor="middle" font-size="6.3" fill="#23232e" stroke="#23232e" stroke-width="0.2" dy="2">9</text>
<text transform="translate(59.2 254.1) rotate(-30)" text-anchor="middle" font-size="6.3" fill="#23232e" stroke="#23232e" stroke-width="0.2" dy="2">8</text>
<text transform="translate(66.5 259.5) rotate(-30)" text-anchor="middle" font-size="6.3" fill="#23232e" stroke="#23232e" stroke-width="0.2" dy="2">7</text>
<text transform="translate(74.6 265.4) rotate(-30)" text-anchor="middle" font-size="6.3" fill="#23232e" stroke="#23232e" stroke-width="0.2" dy="2">6</text>
<text transform="translate(82 270.5) rotate(-30)" text-anchor="middle" font-size="6.3" fill="#23232e" stroke="#23232e" stroke-width="0.2" dy="2">5</text>
<text transform="translate(89.2 275) rotate(-30)" text-anchor="middle" font-size="6.3" fill="#23232e" stroke="#23232e" stroke-width="0.2" dy="2">4</text>
<text transform="translate(52.8 265.4) rotate(36)" text-anchor="middle" font-size="7" font-style="italic" font-weight="bold" fill="#23232e" dy="2">q<tspan font-size="3.6" dy="1">water</tspan><tspan dy="-1">, L/min</tspan></text>
<text transform="translate(97.2 277.6) rotate(38)" text-anchor="middle" font-size="6.8" fill="#23232e" stroke="#23232e" stroke-width="0.2" dy="2">80</text>
<text transform="translate(108.5 272.1) rotate(38)" text-anchor="middle" font-size="6.8" fill="#23232e" stroke="#23232e" stroke-width="0.2" dy="2">84</text>
<text transform="translate(119.8 266.4) rotate(38)" text-anchor="middle" font-size="6.8" fill="#23232e" stroke="#23232e" stroke-width="0.2" dy="2">88</text>
<text transform="translate(130.5 260.8) rotate(38)" text-anchor="middle" font-size="6.8" fill="#23232e" stroke="#23232e" stroke-width="0.2" dy="2">92</text>
<text transform="translate(140.2 255.4) rotate(38)" text-anchor="middle" font-size="6.8" fill="#23232e" stroke="#23232e" stroke-width="0.2" dy="2">96</text>
<text transform="translate(152.5 251) rotate(38)" text-anchor="middle" font-size="6.8" fill="#23232e" stroke="#23232e" stroke-width="0.2" dy="2">100</text>
<text transform="translate(138.2 272.8) rotate(-33)" text-anchor="middle" font-size="7" font-style="italic" font-weight="bold" fill="#23232e" dy="2">η, <tspan font-size="5">%</tspan></text>
<path d="M222.2 241.5 L220.2 181.4M228.13 238.37 L226.41 179M233.89 235.33 L232.45 176.68M239.5 232.37 L238.32 174.42M244.96 229.49 L244.03 172.22M250.28 226.69 L249.58 170.08M255.46 223.96 L254.98 167.99M260.5 221.29 L260.23 165.97M265.42 218.7 L265.35 164M270.22 216.17 L270.34 162.07M274.9 213.7 L275.2 160.2M222.2 241.5 L274.9 213.7M221.96 234.27 L274.94 207.23M221.72 226.96 L274.97 200.7M221.47 219.57 L275.01 194.11M221.22 212.1 L275.05 187.46M220.97 204.55 L275.08 180.74M220.72 196.92 L275.12 173.96M220.46 189.2 L275.16 167.11M220.2 181.4 L275.2 160.2M281.54 218.53 L282.15 163.99M288.48 223.59 L289.44 167.97M295.75 228.89 L297.09 172.14M303.38 234.44 L305.13 176.52M311.39 240.27 L313.59 181.14M319.8 246.4 L322.5 186M274.9 213.7 L319.8 246.4M274.94 207.27 L320.12 239.18M274.97 200.76 L320.45 231.87M275.01 194.19 L320.78 224.47M275.05 187.54 L321.12 216.97M275.08 180.82 L321.45 209.38M275.12 174.02 L321.8 201.69M275.16 167.15 L322.15 193.89M275.2 160.2 L322.5 186M222.2 241.5 L265.7 274M227.39 238.76 L271.03 271.28M232.6 236.01 L276.38 268.55M237.83 233.26 L281.74 265.82M243.07 230.49 L287.12 263.07M248.33 227.72 L292.52 260.32M253.61 224.93 L297.94 257.55M258.91 222.14 L303.38 254.78M264.22 219.33 L308.83 251.99M269.55 216.52 L314.31 249.2M274.9 213.7 L319.8 246.4M222.2 241.5 L274.9 213.7M229.38 246.86 L282.31 219.09M236.58 252.24 L289.74 224.51M243.82 257.65 L297.21 229.95M251.08 263.08 L304.71 235.41M258.38 268.53 L312.24 240.89M265.7 274 L319.8 246.4" fill="none" stroke="#dadada" stroke-width="0.6"/>
<path d="M220.2 181.4 L222.2 241.5 L265.7 274 L319.8 246.4" fill="none" stroke="#222" stroke-width="0.8" stroke-linejoin="round"/>
<path d="M221.96 234.27 L220.46 234.87M221.72 226.96 L220.22 227.56M221.47 219.57 L219.97 220.17M221.22 212.1 L219.72 212.7M220.97 204.55 L219.47 205.15M220.72 196.92 L219.22 197.52M220.46 189.2 L218.96 189.8M220.2 181.4 L218.7 182" fill="none" stroke="#222" stroke-width="0.6"/>
<clipPath id="c174_127"><path d="M223.3 230.3 L275.2 208.8 L320.2 237.2 L265.8 262.6Z"/></clipPath>
<g clip-path="url(#c174_127)">
<path d="M223.3 230.3 L275.2 208.8 L320.2 237.2 L265.8 262.6Z" fill="#10a010"/>
<path d="M220 191.5 L250 218.5 L255 223 L260 227.5 L267 235 L272.5 242 L277 249 L282 257.4 L284 261 L296 282.6 L496 282.6 L420 191.5Z" fill="#06603c"/>
</g>
<path d="M223.3 230.3 L265.8 262.6M223.3 230.3 L275.2 208.8M226.03 229.17 L268.68 261.26M225.24 231.77 L277.26 210.1M228.75 228.04 L271.54 259.92M227.2 233.26 L279.34 211.42M231.45 226.92 L274.38 258.59M229.17 234.76 L281.44 212.74M234.13 225.81 L277.2 257.28M231.16 236.28 L283.56 214.08M236.81 224.71 L280.01 255.96M233.18 237.81 L285.7 215.43M239.46 223.6 L282.8 254.66M235.21 239.35 L287.86 216.79M242.11 222.51 L285.58 253.37M237.26 240.91 L290.03 218.16M244.73 221.42 L288.34 252.08M239.33 242.48 L292.23 219.55M247.35 220.34 L291.08 250.8M241.42 244.07 L294.44 220.94M249.95 219.26 L293.8 249.52M243.53 245.67 L296.68 222.35M252.53 218.19 L296.51 248.26M245.66 247.29 L298.93 223.78M255.11 217.12 L299.21 247M247.81 248.93 L301.21 225.22M257.67 216.06 L301.88 245.75M249.98 250.58 L303.51 226.66M260.21 215.01 L304.55 244.51M252.18 252.25 L305.83 228.13M262.74 213.96 L307.19 243.27M254.39 253.93 L308.17 229.61M265.26 212.92 L309.83 242.04M256.63 255.63 L310.53 231.1M267.76 211.88 L312.44 240.82M258.89 257.35 L312.91 232.6M270.26 210.85 L315.04 239.61M261.17 259.08 L315.32 234.12M272.73 209.82 L317.63 238.4M263.47 260.83 L317.75 235.65M275.2 208.8 L320.2 237.2M265.8 262.6 L320.2 237.2" fill="none" stroke="#000" stroke-opacity="0.5" stroke-width="0.6"/>
<path d="M223.3 230.3 L275.2 208.8 L320.2 237.2 L265.8 262.6Z" fill="none" stroke="#000" stroke-opacity="0.6" stroke-width="0.6"/>
<text transform="translate(219.4 237.3) rotate(-18) skewX(-10)" text-anchor="end" font-size="7.3" font-style="italic" fill="#23232e" stroke="#23232e" stroke-width="0.18">200</text>
<text transform="translate(219.15 229.9) rotate(-18) skewX(-10)" text-anchor="end" font-size="7.3" font-style="italic" fill="#23232e" stroke="#23232e" stroke-width="0.18">400</text>
<text transform="translate(218.9 222.5) rotate(-18) skewX(-10)" text-anchor="end" font-size="7.3" font-style="italic" fill="#23232e" stroke="#23232e" stroke-width="0.18">600</text>
<text transform="translate(218.65 215.1) rotate(-18) skewX(-10)" text-anchor="end" font-size="7.3" font-style="italic" fill="#23232e" stroke="#23232e" stroke-width="0.18">800</text>
<text transform="translate(218.4 207.7) rotate(-18) skewX(-10)" text-anchor="end" font-size="7.3" font-style="italic" fill="#23232e" stroke="#23232e" stroke-width="0.18">1000</text>
<text transform="translate(218.15 200.3) rotate(-18) skewX(-10)" text-anchor="end" font-size="7.3" font-style="italic" fill="#23232e" stroke="#23232e" stroke-width="0.18">1200</text>
<text transform="translate(217.9 192.9) rotate(-18) skewX(-10)" text-anchor="end" font-size="7.3" font-style="italic" fill="#23232e" stroke="#23232e" stroke-width="0.18">1400</text>
<text transform="translate(217.65 185.5) rotate(-18) skewX(-10)" text-anchor="end" font-size="7.3" font-style="italic" fill="#23232e" stroke="#23232e" stroke-width="0.18">1600</text>
<text transform="translate(197.2 216.2) rotate(-90)" text-anchor="middle" font-size="6.9" font-weight="bold" fill="#23232e">ΔE, kg/year</text>
<text transform="translate(216.7 244.3) rotate(-30)" text-anchor="middle" font-size="6.3" fill="#23232e" stroke="#23232e" stroke-width="0.2" dy="2">10</text>
<text transform="translate(225.6 248.7) rotate(-30)" text-anchor="middle" font-size="6.3" fill="#23232e" stroke="#23232e" stroke-width="0.2" dy="2">9</text>
<text transform="translate(232.2 254.1) rotate(-30)" text-anchor="middle" font-size="6.3" fill="#23232e" stroke="#23232e" stroke-width="0.2" dy="2">8</text>
<text transform="translate(239.5 259.5) rotate(-30)" text-anchor="middle" font-size="6.3" fill="#23232e" stroke="#23232e" stroke-width="0.2" dy="2">7</text>
<text transform="translate(247.6 265.4) rotate(-30)" text-anchor="middle" font-size="6.3" fill="#23232e" stroke="#23232e" stroke-width="0.2" dy="2">6</text>
<text transform="translate(255 270.5) rotate(-30)" text-anchor="middle" font-size="6.3" fill="#23232e" stroke="#23232e" stroke-width="0.2" dy="2">5</text>
<text transform="translate(262.2 275) rotate(-30)" text-anchor="middle" font-size="6.3" fill="#23232e" stroke="#23232e" stroke-width="0.2" dy="2">4</text>
<text transform="translate(225.8 265.4) rotate(36)" text-anchor="middle" font-size="7" font-style="italic" font-weight="bold" fill="#23232e" dy="2">q<tspan font-size="3.6" dy="1">water</tspan><tspan dy="-1">, L/min</tspan></text>
<text transform="translate(270.2 277.6) rotate(38)" text-anchor="middle" font-size="6.8" fill="#23232e" stroke="#23232e" stroke-width="0.2" dy="2">80</text>
<text transform="translate(281.5 272.1) rotate(38)" text-anchor="middle" font-size="6.8" fill="#23232e" stroke="#23232e" stroke-width="0.2" dy="2">84</text>
<text transform="translate(292.8 266.4) rotate(38)" text-anchor="middle" font-size="6.8" fill="#23232e" stroke="#23232e" stroke-width="0.2" dy="2">88</text>
<text transform="translate(303.5 260.8) rotate(38)" text-anchor="middle" font-size="6.8" fill="#23232e" stroke="#23232e" stroke-width="0.2" dy="2">92</text>
<text transform="translate(313.2 255.4) rotate(38)" text-anchor="middle" font-size="6.8" fill="#23232e" stroke="#23232e" stroke-width="0.2" dy="2">96</text>
<text transform="translate(325.5 251) rotate(38)" text-anchor="middle" font-size="6.8" fill="#23232e" stroke="#23232e" stroke-width="0.2" dy="2">100</text>
<text transform="translate(311.2 272.8) rotate(-33)" text-anchor="middle" font-size="7" font-style="italic" font-weight="bold" fill="#23232e" dy="2">η, <tspan font-size="5">%</tspan></text>
<path d="M395 241.5 L393 181.4M400.93 238.37 L399.21 179M406.69 235.33 L405.25 176.68M412.3 232.37 L411.12 174.42M417.76 229.49 L416.83 172.22M423.08 226.69 L422.38 170.08M428.26 223.96 L427.78 167.99M433.3 221.29 L433.03 165.97M438.22 218.7 L438.15 164M443.02 216.17 L443.14 162.07M447.7 213.7 L448 160.2M395 241.5 L447.7 213.7M394.76 234.27 L447.74 207.23M394.52 226.96 L447.77 200.7M394.27 219.57 L447.81 194.11M394.02 212.1 L447.85 187.46M393.77 204.55 L447.88 180.74M393.52 196.92 L447.92 173.96M393.26 189.2 L447.96 167.11M393 181.4 L448 160.2M454.34 218.53 L454.95 163.99M461.28 223.59 L462.24 167.97M468.55 228.89 L469.89 172.14M476.18 234.44 L477.93 176.52M484.19 240.27 L486.39 181.14M492.6 246.4 L495.3 186M447.7 213.7 L492.6 246.4M447.74 207.27 L492.92 239.18M447.77 200.76 L493.25 231.87M447.81 194.19 L493.58 224.47M447.85 187.54 L493.92 216.97M447.88 180.82 L494.25 209.38M447.92 174.02 L494.6 201.69M447.96 167.15 L494.95 193.89M448 160.2 L495.3 186M395 241.5 L438.5 274M400.19 238.76 L443.83 271.28M405.4 236.01 L449.18 268.55M410.63 233.26 L454.54 265.82M415.87 230.49 L459.92 263.07M421.13 227.72 L465.32 260.32M426.41 224.93 L470.74 257.55M431.71 222.14 L476.18 254.78M437.02 219.33 L481.63 251.99M442.35 216.52 L487.11 249.2M447.7 213.7 L492.6 246.4M395 241.5 L447.7 213.7M402.18 246.86 L455.11 219.09M409.38 252.24 L462.54 224.51M416.62 257.65 L470.01 229.95M423.88 263.08 L477.51 235.41M431.18 268.53 L485.04 240.89M438.5 274 L492.6 246.4" fill="none" stroke="#dadada" stroke-width="0.6"/>
<path d="M393 181.4 L395 241.5 L438.5 274 L492.6 246.4" fill="none" stroke="#222" stroke-width="0.8" stroke-linejoin="round"/>
<path d="M394.76 234.27 L393.26 234.87M394.52 226.96 L393.02 227.56M394.27 219.57 L392.77 220.17M394.02 212.1 L392.52 212.7M393.77 204.55 L392.27 205.15M393.52 196.92 L392.02 197.52M393.26 189.2 L391.76 189.8M393 181.4 L391.5 182" fill="none" stroke="#222" stroke-width="0.6"/>
<clipPath id="c347_127"><path d="M395.7 230.3 L448.1 209.3 L493 238.4 L439.4 262.6Z"/></clipPath>
<g clip-path="url(#c347_127)">
<path d="M395.7 230.3 L448.1 209.3 L493 238.4 L439.4 262.6Z" fill="#109410"/>
<path d="M393.5 200.5 L408.5 221.5 L411 225 L418 235 L425 245 L431 254 L434 258.5 L452 285.5 L652 285.5 L593.5 200.5Z" fill="#065e3a"/>
</g>
<path d="M395.7 230.3 L439.4 262.6M395.7 230.3 L448.1 209.3M398.45 229.2 L442.23 261.32M397.74 231.81 L450.21 210.67M401.19 228.1 L445.04 260.05M399.8 233.33 L452.33 212.04M403.92 227.01 L447.83 258.79M401.88 234.86 L454.46 213.43M406.63 225.92 L450.61 257.54M403.96 236.41 L456.61 214.82M409.32 224.84 L453.37 256.29M406.06 237.96 L458.78 216.22M412 223.77 L456.12 255.05M408.18 239.52 L460.95 217.63M414.67 222.7 L458.85 253.82M410.31 241.1 L463.15 219.05M417.32 221.63 L461.57 252.59M412.45 242.68 L465.35 220.48M419.96 220.58 L464.27 251.37M414.61 244.28 L467.57 221.92M422.59 219.52 L466.95 250.16M416.79 245.89 L469.81 223.37M425.2 218.48 L469.62 248.95M418.98 247.5 L472.06 224.83M427.8 217.44 L472.28 247.76M421.18 249.13 L474.32 226.29M430.38 216.4 L474.92 246.56M423.4 250.78 L476.6 227.77M432.95 215.37 L477.54 245.38M425.64 252.43 L478.9 229.26M435.51 214.35 L480.16 244.2M427.89 254.09 L481.21 230.76M438.05 213.33 L482.75 243.03M430.16 255.77 L483.54 232.27M440.58 212.31 L485.34 241.86M432.45 257.46 L485.88 233.78M443.1 211.3 L487.9 240.7M434.75 259.16 L488.24 235.31M445.61 210.3 L490.46 239.55M437.07 260.87 L490.61 236.85M448.1 209.3 L493 238.4M439.4 262.6 L493 238.4" fill="none" stroke="#000" stroke-opacity="0.5" stroke-width="0.6"/>
<path d="M395.7 230.3 L448.1 209.3 L493 238.4 L439.4 262.6Z" fill="none" stroke="#000" stroke-opacity="0.6" stroke-width="0.6"/>
<text transform="translate(392.2 237.2) rotate(-18) skewX(-10)" text-anchor="end" font-size="7.3" font-style="italic" fill="#23232e" stroke="#23232e" stroke-width="0.18">200</text>
<text transform="translate(391.95 229.8) rotate(-18) skewX(-10)" text-anchor="end" font-size="7.3" font-style="italic" fill="#23232e" stroke="#23232e" stroke-width="0.18">400</text>
<text transform="translate(391.7 222.4) rotate(-18) skewX(-10)" text-anchor="end" font-size="7.3" font-style="italic" fill="#23232e" stroke="#23232e" stroke-width="0.18">600</text>
<text transform="translate(391.45 215) rotate(-18) skewX(-10)" text-anchor="end" font-size="7.3" font-style="italic" fill="#23232e" stroke="#23232e" stroke-width="0.18">800</text>
<text transform="translate(391.2 207.6) rotate(-18) skewX(-10)" text-anchor="end" font-size="7.3" font-style="italic" fill="#23232e" stroke="#23232e" stroke-width="0.18">1000</text>
<text transform="translate(390.95 200.2) rotate(-18) skewX(-10)" text-anchor="end" font-size="7.3" font-style="italic" fill="#23232e" stroke="#23232e" stroke-width="0.18">1200</text>
<text transform="translate(390.7 192.8) rotate(-18) skewX(-10)" text-anchor="end" font-size="7.3" font-style="italic" fill="#23232e" stroke="#23232e" stroke-width="0.18">1400</text>
<text transform="translate(390.45 185.4) rotate(-18) skewX(-10)" text-anchor="end" font-size="7.3" font-style="italic" fill="#23232e" stroke="#23232e" stroke-width="0.18">1600</text>
<text transform="translate(370.8 217) rotate(-90)" text-anchor="middle" font-size="6.9" font-weight="bold" fill="#23232e">ΔE, kg/year</text>
<text transform="translate(389.5 244.3) rotate(-30)" text-anchor="middle" font-size="6.3" fill="#23232e" stroke="#23232e" stroke-width="0.2" dy="2">10</text>
<text transform="translate(398.4 248.7) rotate(-30)" text-anchor="middle" font-size="6.3" fill="#23232e" stroke="#23232e" stroke-width="0.2" dy="2">9</text>
<text transform="translate(405 254.1) rotate(-30)" text-anchor="middle" font-size="6.3" fill="#23232e" stroke="#23232e" stroke-width="0.2" dy="2">8</text>
<text transform="translate(412.3 259.5) rotate(-30)" text-anchor="middle" font-size="6.3" fill="#23232e" stroke="#23232e" stroke-width="0.2" dy="2">7</text>
<text transform="translate(420.4 265.4) rotate(-30)" text-anchor="middle" font-size="6.3" fill="#23232e" stroke="#23232e" stroke-width="0.2" dy="2">6</text>
<text transform="translate(427.8 270.5) rotate(-30)" text-anchor="middle" font-size="6.3" fill="#23232e" stroke="#23232e" stroke-width="0.2" dy="2">5</text>
<text transform="translate(435 275) rotate(-30)" text-anchor="middle" font-size="6.3" fill="#23232e" stroke="#23232e" stroke-width="0.2" dy="2">4</text>
<text transform="translate(398.6 265.4) rotate(36)" text-anchor="middle" font-size="7" font-style="italic" font-weight="bold" fill="#23232e" dy="2">q<tspan font-size="3.6" dy="1">water</tspan><tspan dy="-1">, L/min</tspan></text>
<text transform="translate(443 277.6) rotate(38)" text-anchor="middle" font-size="6.8" fill="#23232e" stroke="#23232e" stroke-width="0.2" dy="2">80</text>
<text transform="translate(454.3 272.1) rotate(38)" text-anchor="middle" font-size="6.8" fill="#23232e" stroke="#23232e" stroke-width="0.2" dy="2">84</text>
<text transform="translate(465.6 266.4) rotate(38)" text-anchor="middle" font-size="6.8" fill="#23232e" stroke="#23232e" stroke-width="0.2" dy="2">88</text>
<text transform="translate(476.3 260.8) rotate(38)" text-anchor="middle" font-size="6.8" fill="#23232e" stroke="#23232e" stroke-width="0.2" dy="2">92</text>
<text transform="translate(486 255.4) rotate(38)" text-anchor="middle" font-size="6.8" fill="#23232e" stroke="#23232e" stroke-width="0.2" dy="2">96</text>
<text transform="translate(498.3 251) rotate(38)" text-anchor="middle" font-size="6.8" fill="#23232e" stroke="#23232e" stroke-width="0.2" dy="2">100</text>
<text transform="translate(484 272.8) rotate(-33)" text-anchor="middle" font-size="7" font-style="italic" font-weight="bold" fill="#23232e" dy="2">η, <tspan font-size="5">%</tspan></text>
<text x="98" y="20.8" text-anchor="middle" font-size="10.8" fill="#151515" stroke="#151515" stroke-width="0.22" textLength="71.2" lengthAdjust="spacingAndGlyphs">No DWHR unit</text>
<text x="270.2" y="12" text-anchor="middle" font-size="10.8" fill="#151515" stroke="#151515" stroke-width="0.22" textLength="54.4" lengthAdjust="spacingAndGlyphs">DWHR unit</text>
<text x="270.2" y="25.6" text-anchor="middle" font-size="10.8" fill="#151515" stroke="#151515" stroke-width="0.22" textLength="66.4" lengthAdjust="spacingAndGlyphs">without baffles</text>
<text x="443.7" y="12" text-anchor="middle" font-size="10.8" fill="#151515" stroke="#151515" stroke-width="0.22" textLength="54.6" lengthAdjust="spacingAndGlyphs">DWHR unit</text>
<text x="443.6" y="25.6" text-anchor="middle" font-size="10.8" fill="#151515" stroke="#151515" stroke-width="0.22" textLength="52" lengthAdjust="spacingAndGlyphs">with baffles</text>
<text transform="translate(10.8 85.2) rotate(-90)" text-anchor="middle" font-size="10.8" fill="#151515" stroke="#151515" stroke-width="0.22" textLength="88.4" lengthAdjust="spacingAndGlyphs">Electric water heater</text>
<text transform="translate(10.9 219.5) rotate(-90)" text-anchor="middle" font-size="10.8" fill="#151515" stroke="#151515" stroke-width="0.22" textLength="74.3" lengthAdjust="spacingAndGlyphs">Gas water heater</text>
<rect x="507.4" y="165.6" width="13.9" height="8.2" fill="#980000" stroke="#444" stroke-width="0.4"/>
<text x="524.8" y="172.4" font-size="7.8" fill="#151515">&gt; 1300</text>
<rect x="507.4" y="176.2" width="13.9" height="8.2" fill="#c00000" stroke="#444" stroke-width="0.4"/>
<text x="524.8" y="183" font-size="7.8" fill="#151515">&lt; 1300</text>
<rect x="507.4" y="186.8" width="13.9" height="8.2" fill="#e00a0a" stroke="#444" stroke-width="0.4"/>
<text x="524.8" y="193.6" font-size="7.8" fill="#151515">&lt; 1200</text>
<rect x="507.4" y="197.4" width="13.9" height="8.2" fill="#ff0808" stroke="#444" stroke-width="0.4"/>
<text x="524.8" y="204.2" font-size="7.8" fill="#151515">&lt; 1100</text>
<rect x="507.4" y="208" width="13.9" height="8.2" fill="#ff6600" stroke="#444" stroke-width="0.4"/>
<text x="524.8" y="214.8" font-size="7.8" fill="#151515">&lt; 1000</text>
<rect x="507.4" y="218.6" width="13.9" height="8.2" fill="#ffc800" stroke="#444" stroke-width="0.4"/>
<text x="524.8" y="225.4" font-size="7.8" fill="#151515">&lt; 900</text>
<rect x="507.4" y="229.2" width="13.9" height="8.2" fill="#e0ff20" stroke="#444" stroke-width="0.4"/>
<text x="524.8" y="236" font-size="7.8" fill="#151515">&lt; 800</text>
<rect x="507.4" y="239.8" width="13.9" height="8.2" fill="#0ccc0c" stroke="#444" stroke-width="0.4"/>
<text x="524.8" y="246.6" font-size="7.8" fill="#151515">&lt; 500</text>
<rect x="507.4" y="250.4" width="13.9" height="8.2" fill="#009400" stroke="#444" stroke-width="0.4"/>
<text x="524.8" y="257.2" font-size="7.8" fill="#151515">&lt; 400</text>
<rect x="507.4" y="261" width="13.9" height="8.2" fill="#00663c" stroke="#444" stroke-width="0.4"/>
<text x="524.8" y="267.8" font-size="7.8" fill="#151515">&lt; 300</text>
</svg>
</body></html>
